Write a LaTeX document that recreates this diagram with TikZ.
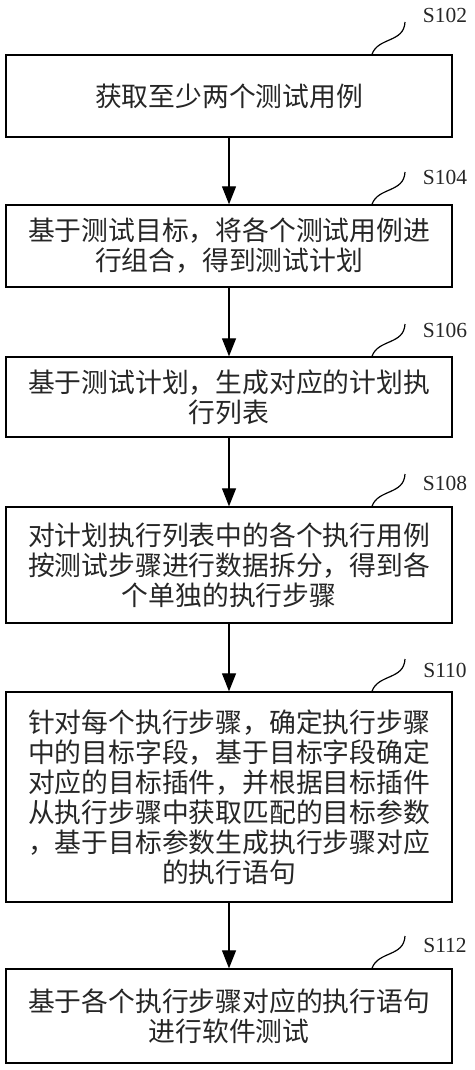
\documentclass[tikz,border=0pt]{standalone}
\usepackage{fontspec}
\setmainfont{Liberation Serif}
\newfontfamily\cjk{Noto Sans CJK SC}
\usetikzlibrary{arrows.meta}
\tikzset{
  stepbox/.style={draw=black, line width=1.4pt, minimum width=446pt, inner sep=0pt, align=center,
    font=\cjk\fontsize{26.8}{30}\selectfont, text=black!85},
  flow/.style={draw=black, line width=1.3pt, -{Triangle[width=14pt,length=18pt]}},
  squig/.style={draw=black, line width=1.2pt},
  steplabel/.style={font=\fontsize{21.5}{23}\selectfont, text=black!85, inner sep=0pt}
}
\begin{document}
\begin{tikzpicture}[x=1pt,y=-1pt]
\useasboundingbox (0,0) rectangle (474,1070);
\node[stepbox, minimum height=82pt] (b1) at (229,96) {获取至少两个测试用例};
\node[stepbox, minimum height=82pt] (b2) at (229,246) {基于测试目标，将各个测试用例进\\行组合，得到测试计划};
\node[stepbox, minimum height=80pt] (b3) at (229,397) {基于测试计划，生成对应的计划执\\行列表};
\node[stepbox, minimum height=116pt] (b4) at (229,565) {对计划执行列表中的各个执行用例\\按测试步骤进行数据拆分，得到各\\个单独的执行步骤};
\node[stepbox, minimum height=210pt] (b5) at (229,797) {针对每个执行步骤，确定执行步骤\\中的目标字段，基于目标字段确定\\对应的目标插件，并根据目标插件\\从执行步骤中获取匹配的目标参数\\，基于目标参数生成执行步骤对应\\的执行语句};
\node[stepbox, minimum height=94pt] (b6) at (229,1016) {基于各个执行步骤对应的执行语句\\进行软件测试};

\draw[flow] (b1.south) -- (b2.north);
\draw[flow] (b2.south) -- (b3.north);
\draw[flow] (b3.south) -- (b4.north);
\draw[flow] (b4.south) -- (b5.north);
\draw[flow] (b5.south) -- (b6.north);

\node[steplabel] (l1) at (445,15) {S102};
\node[steplabel] (l2) at (445,177) {S104};
\node[steplabel] (l3) at (445,330) {S106};
\node[steplabel] (l4) at (445,483) {S108};
\node[steplabel] (l5) at (445,670) {S110};
\node[steplabel] (l6) at (445,945) {S112};

\foreach \b/\t in {b1/55,b2/205,b3/357,b4/507,b5/692,b6/969}{
  \coordinate (q\b) at (405,\t-33);
  \draw[squig] (\b.north -| 372,0) .. controls (378,\t-18) and (404,\t-12) .. (q\b);
}
\end{tikzpicture}
\end{document}
